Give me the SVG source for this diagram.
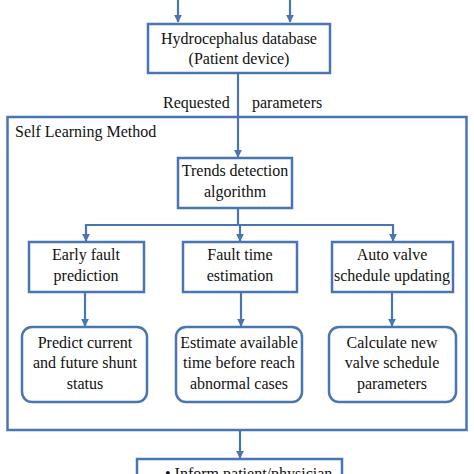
<svg xmlns="http://www.w3.org/2000/svg" width="474" height="474" viewBox="0 0 474 474">
<defs>
<marker id="ah" viewBox="0 0 10 10" refX="9" refY="5" markerWidth="8" markerHeight="8" orient="auto" markerUnits="userSpaceOnUse">
<path d="M0,0 L10,5 L0,10 z" fill="#4a74b2"/>
</marker>
<style>
.box{fill:#fff;stroke:#4a74b2;stroke-width:2.5}
.ln{fill:none;stroke:#4a74b2;stroke-width:2.2}
.t{font-family:"Liberation Serif","Times New Roman",serif;font-size:16px;fill:#111;text-anchor:middle}
.tl{font-family:"Liberation Serif","Times New Roman",serif;font-size:16px;fill:#111}
</style>
</defs>
<rect width="474" height="474" fill="#fff"/>
<g id="outer">
<rect class="box" x="7.5" y="117" width="459" height="313"/>
<text class="tl" x="15" y="137">Self Learning Method</text>
</g>
<g id="connectors">
<line class="ln" x1="178" y1="0" x2="178" y2="22" marker-end="url(#ah)"/>
<line class="ln" x1="290" y1="0" x2="290" y2="22" marker-end="url(#ah)"/>
<line class="ln" x1="238" y1="73" x2="238" y2="157" marker-end="url(#ah)"/>
<line class="ln" x1="238" y1="208" x2="238" y2="225"/>
<polyline class="ln" points="86,226 86,225 393,225 393,226"/>
<line class="ln" x1="86" y1="225" x2="86" y2="241" marker-end="url(#ah)"/>
<line class="ln" x1="240" y1="225" x2="240" y2="241" marker-end="url(#ah)"/>
<line class="ln" x1="393" y1="225" x2="393" y2="241" marker-end="url(#ah)"/>
<line class="ln" x1="85" y1="292" x2="85" y2="326" marker-end="url(#ah)"/>
<line class="ln" x1="241" y1="292" x2="241" y2="326" marker-end="url(#ah)"/>
<line class="ln" x1="392" y1="292" x2="392" y2="326" marker-end="url(#ah)"/>
<line class="ln" x1="240" y1="430" x2="240" y2="458" marker-end="url(#ah)"/>
<text class="tl" x="163" y="108">Requested</text>
<text class="tl" x="252" y="108">parameters</text>
</g>
<g id="db">
<rect class="box" x="148" y="24" width="182" height="49"/>
<text class="t" x="239" y="44">Hydrocephalus database</text>
<text class="t" x="239" y="64">(Patient device)</text>
</g>
<g id="trends">
<rect class="box" x="178" y="158" width="114" height="50"/>
<text class="t" x="235" y="176">Trends detection</text>
<text class="t" x="235" y="197">algorithm</text>
</g>
<g id="early">
<rect class="box" x="29" y="242" width="115" height="50"/>
<text class="t" x="86" y="260">Early fault</text>
<text class="t" x="86" y="281">prediction</text>
</g>
<g id="faulttime">
<rect class="box" x="183" y="242" width="114" height="50"/>
<text class="t" x="240" y="260">Fault time</text>
<text class="t" x="240" y="281">estimation</text>
</g>
<g id="auto">
<rect class="box" x="332" y="242" width="121" height="50"/>
<text class="t" x="392" y="260">Auto valve</text>
<text class="t" x="392" y="281">schedule updating</text>
</g>
<g id="predict">
<rect class="box" x="22" y="327" width="125" height="75" rx="10"/>
<text class="t" x="85" y="348">Predict current</text>
<text class="t" x="85" y="368">and future shunt</text>
<text class="t" x="85" y="389">status</text>
</g>
<g id="estimate">
<rect class="box" x="176" y="327" width="126" height="75" rx="10"/>
<text class="t" x="239" y="348">Estimate available</text>
<text class="t" x="239" y="368">time before reach</text>
<text class="t" x="239" y="389">abnormal cases</text>
</g>
<g id="calculate">
<rect class="box" x="329" y="327" width="127" height="75" rx="10"/>
<text class="t" x="392" y="348">Calculate new</text>
<text class="t" x="392" y="368">valve schedule</text>
<text class="t" x="392" y="389">parameters</text>
</g>
<g id="inform">
<rect class="box" x="137" y="459" width="205" height="30"/>
<text class="tl" x="165" y="479">•  Inform patient/physician</text>
</g>
</svg>
